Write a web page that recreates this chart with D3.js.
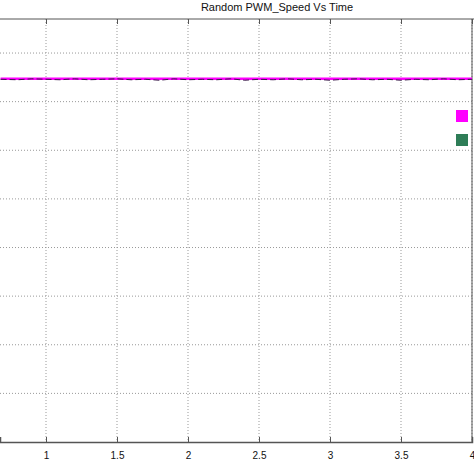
<!DOCTYPE html>
<html>
<head>
<meta charset="utf-8">
<script src="https://cdn.jsdelivr.net/npm/d3@7"></script>
<style>
body { margin: 0; background: #fff; }
svg { display: block; font-family: "Liberation Sans", Arial, sans-serif; }
</style>
</head>
<body>
<div id="chart"></div>
<script>
// chart data
var title = "Random PWM_Speed Vs Time";
var xTicks = [1, 1.5, 2, 2.5, 3, 3.5, 4];
var yGrid = [1, 2, 3, 4, 5, 6, 7, 8];
var time = [0.68, 0.8, 0.9, 1.0, 1.1, 1.2, 1.3, 1.4, 1.5, 1.6, 1.7, 1.8, 1.9, 2.0, 2.1, 2.2, 2.3, 2.4, 2.5,
            2.6, 2.7, 2.8, 2.9, 3.0, 3.1, 3.2, 3.3, 3.4, 3.5, 3.6, 3.7, 3.8, 3.9, 4.0];
var setSpeed = [7.47, 7.47, 7.47, 7.47, 7.47, 7.47, 7.47, 7.47, 7.47, 7.47, 7.47, 7.47, 7.47, 7.47, 7.47, 7.47, 7.47,
                7.47, 7.47, 7.47, 7.47, 7.47, 7.47, 7.47, 7.47, 7.47, 7.47, 7.47, 7.47, 7.47, 7.47, 7.47, 7.47, 7.47];
var actualSpeed = [7.46, 7.45, 7.47, 7.46, 7.45, 7.47, 7.45, 7.46, 7.47, 7.45, 7.46, 7.44, 7.47, 7.45, 7.46, 7.45, 7.47,
                   7.44, 7.46, 7.45, 7.47, 7.45, 7.46, 7.44, 7.46, 7.47, 7.45, 7.46, 7.44, 7.46, 7.45, 7.47, 7.45, 7.46];
var legendColors = ["#ff00ff", "#2e7d57"];

var width = 474, height = 474;
var margin = {top: 19, right: 2, bottom: 32, left: 0};

var x = d3.scaleLinear().domain([0.676, 4.0]).range([margin.left, width - margin.right]);
var y = d3.scaleLinear().domain([0, 8.7]).range([height - margin.bottom, margin.top]);

var svg = d3.select("#chart").append("svg").attr("width", width).attr("height", height);

svg.append("text").attr("x", 277).attr("y", 11).attr("text-anchor", "middle")
    .attr("font-size", 11).attr("fill", "#111").text(title);

// grid
svg.append("g").selectAll("line").data(xTicks).enter().append("line")
    .attr("x1", d => x(d)).attr("x2", d => x(d))
    .attr("y1", y.range()[1]).attr("y2", y.range()[0])
    .attr("stroke", "#999").attr("stroke-dasharray", "1,2");
svg.append("g").selectAll("line").data(yGrid).enter().append("line")
    .attr("x1", x.range()[0]).attr("x2", x.range()[1])
    .attr("y1", d => y(d)).attr("y2", d => y(d))
    .attr("stroke", "#999").attr("stroke-dasharray", "1,2");

// frame
svg.append("line").attr("x1", 0).attr("x2", width).attr("y1", margin.top).attr("y2", margin.top).attr("stroke", "#555");
svg.append("line").attr("x1", x.range()[1]).attr("x2", x.range()[1]).attr("y1", margin.top).attr("y2", y.range()[0]).attr("stroke", "#555");

// x axis
var xAxis = svg.append("g").attr("transform", "translate(0," + y.range()[0] + ")")
    .call(d3.axisBottom(x).tickValues(xTicks).tickSize(-5).tickPadding(10).tickFormat(d3.format("")));
xAxis.select(".domain").attr("stroke", "#555").attr("stroke-width", 1.5);
xAxis.selectAll(".tick line").attr("stroke", "#555");
xAxis.selectAll("text").attr("font-size", 10).attr("fill", "#111");
svg.append("g").attr("transform", "translate(0," + margin.top + ")")
    .call(d3.axisBottom(x).tickValues(xTicks).tickSize(5).tickFormat(""))
    .call(g => g.select(".domain").remove())
    .selectAll(".tick line").attr("stroke", "#555");

var line = d3.line().x((d, i) => x(time[i])).y(d => y(d));
svg.append("path").datum(setSpeed).attr("d", line).attr("fill", "none")
    .attr("stroke", "#ff00ff").attr("stroke-width", 2.5);
svg.append("path").datum(actualSpeed).attr("d", line).attr("fill", "none")
    .attr("stroke", "#3a1a4a").attr("stroke-width", 1).attr("stroke-dasharray", "6,3");

// legend swatches
svg.append("g").selectAll("rect").data(legendColors).enter().append("rect")
    .attr("x", 456).attr("y", (d, i) => 110 + i * 24)
    .attr("width", 12).attr("height", 12).attr("fill", d => d);
</script>
</body>
</html>
